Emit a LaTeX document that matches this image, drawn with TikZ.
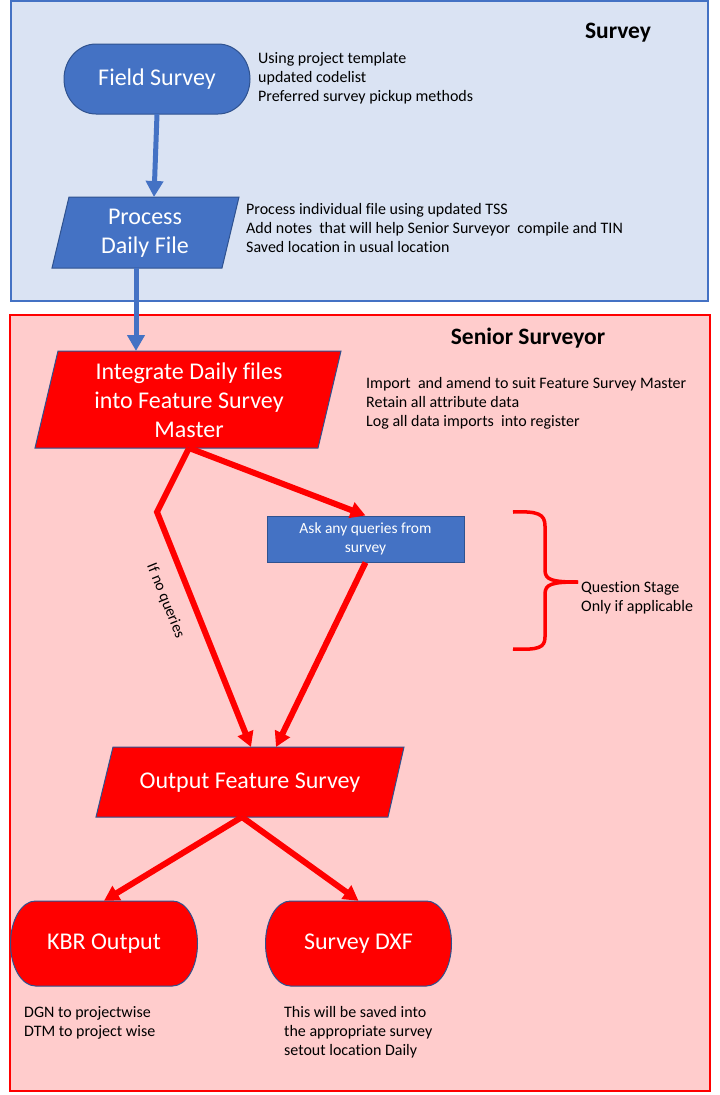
\documentclass[tikz,border=0pt]{standalone}
\usepackage{fontspec}
\setmainfont{Carlito}[Ligatures=NoCommon]
\usetikzlibrary{arrows.meta}
\definecolor{shpblue}{HTML}{4472C4}
\definecolor{edgeblue}{HTML}{2F528F}
\definecolor{survbg}{HTML}{DAE3F3}
\definecolor{senbg}{HTML}{FFCCCC}
\definecolor{redf}{HTML}{FF0000}
\pgfdeclarelayer{bg}\pgfdeclarelayer{shp}\pgfsetlayers{bg,shp,main}
\begin{document}
\begin{tikzpicture}[x=1pt,y=1pt,
 bigtxt/.style={text=white, font=\fontsize{24}{29}\selectfont, align=center, inner sep=0},
 smalltxt/.style={font=\fontsize{16}{19}\selectfont, align=left, inner sep=0, anchor=west},
 asktxt/.style={text=white, font=\fontsize{15.5}{19}\selectfont, align=center, inner sep=0},
 heading/.style={font=\bfseries\fontsize{23.5}{27}\selectfont, inner sep=0},
 bluearrow/.style={draw=shpblue, line width=5pt, -{Triangle[length=16pt,width=17pt]}},
 redarrow/.style={draw=redf, line width=6pt, -{Triangle[length=15pt,width=16pt]}},
 blueshape/.style={fill=shpblue, draw=edgeblue, line width=1pt},
 redshape/.style={fill=redf, draw=edgeblue, line width=1pt},
]
\useasboundingbox (0,0) rectangle (720,-1095);

% regions
\begin{pgfonlayer}{bg}
\fill[white] (0,0) rectangle (720,-1095);
\draw[fill=survbg, draw=shpblue, line width=1.2pt] (11,-1) rectangle (708,-301);
\draw[fill=senbg, draw=redf, line width=1.2pt] (10,-315) rectangle (710,-1091);
\end{pgfonlayer}

% shapes
\begin{pgfonlayer}{shp}
\path[blueshape] (96,-44) -- (218,-44) arc[start angle=90, end angle=-90, x radius=32, y radius=35]
  -- (96,-114) arc[start angle=270, end angle=90, x radius=32, y radius=35] -- cycle;
\path[blueshape] (69,-197) -- (239,-197) -- (222,-268) -- (52,-268) -- cycle;
\path[redshape] (58,-351) -- (341,-351) -- (318,-448) -- (35,-448) -- cycle;
\path[redshape] (113,-747) -- (404,-747) -- (388,-817) -- (96,-817) -- cycle;
\path[redshape] (35.5,-901) -- (172.5,-901) arc[start angle=90, end angle=-90, x radius=25, y radius=42.5]
  -- (35.5,-986) arc[start angle=270, end angle=90, x radius=25, y radius=42.5] -- cycle;
\path[redshape] (290.5,-901) -- (426.5,-901) arc[start angle=90, end angle=-90, x radius=25, y radius=42.5]
  -- (290.5,-986) arc[start angle=270, end angle=90, x radius=25, y radius=42.5] -- cycle;
\end{pgfonlayer}

% nodes
\node[bigtxt, minimum width=186, minimum height=70] (fs) at (157,-79) {Field Survey};
\node[bigtxt] (pdf) at (145,-233) {Process\\Daily File};
\node[bigtxt] (integ) at (189,-400) {Integrate Daily files\\into Feature Survey\\Master};
\node[asktxt, fill=shpblue, draw=edgeblue, line width=1pt, minimum width=197, minimum height=46] (ask) at (365.5,-539) {Ask any queries from\\survey};
\node[bigtxt] (ofs) at (250,-783) {Output Feature Survey};
\node[bigtxt, minimum width=187, minimum height=85] (kbr) at (104,-943.5) {KBR Output};
\node[bigtxt, minimum width=186, minimum height=85] (dxf) at (358.5,-943.5) {Survey DXF};

\node[heading] (h1) at (618,-33) {Survey};
\node[heading] (h2) at (528,-338) {Senior Surveyor};

\node[smalltxt] (n1) at (258,-78.3) {Using project template\\updated codelist\\Preferred survey pickup methods};
\node[smalltxt] (n2) at (246,-228.3) {Process individual file using updated TSS\\Add notes\ \ that will help Senior Surveyor\ \ compile and TIN\\Saved location in usual location};
\node[smalltxt] (n3) at (366,-403.3) {Import\ \ and amend to suit Feature Survey Master\\Retain all attribute data\\Log all data imports\ \ into register};
\node[smalltxt] (n4) at (581,-597.5) {Question Stage\\Only if applicable};
\node[smalltxt] (n5) at (24,-1022.7) {DGN to projectwise\\DTM to project wise};
\node[smalltxt] (n6) at (284,-1032.7) {This will be saved into\\the appropriate survey\\setout location Daily};
\node[font=\fontsize{15.5}{19}\selectfont, inner sep=0, rotate=-68] (nq) at (165.5,-600.8) {If no queries};

% connector end points on the slanted shapes
\coordinate (pdfN) at (154,-197);
\coordinate (pdfS) at (136,-268);
\coordinate (intN) at (136,-351);
\coordinate (intS) at (189,-448);
\coordinate (bend) at (157,-512);
\coordinate (ofsN1) at (251,-747);
\coordinate (ofsN2) at (276,-747);
\coordinate (ofsS) at (242,-817);

% connectors
\draw[bluearrow] (fs.south) -- (pdfN);
\draw[bluearrow] (pdfS) -- (intN);
\draw[redarrow] (intS) -- (bend) -- (ofsN1);
\draw[redarrow] (intS) -- (ask.north);
\draw[redarrow] (ask.south) -- (ofsN2);
\draw[redarrow] (ofsS) -- (kbr.north);
\draw[redarrow] (ofsS) -- (dxf.north);

% brace
\draw[draw=redf, line width=3.5pt] (513,-512) .. controls (538,-511) and (545,-514) .. (545,-526)
  -- (545,-570) .. controls (545,-580) and (552,-582) .. (578,-582);
\draw[draw=redf, line width=3.5pt] (578,-582) .. controls (552,-582) and (545,-584) .. (545,-594)
  -- (545,-637) .. controls (545,-648) and (538,-650) .. (513,-649);
\end{tikzpicture}
\end{document}
